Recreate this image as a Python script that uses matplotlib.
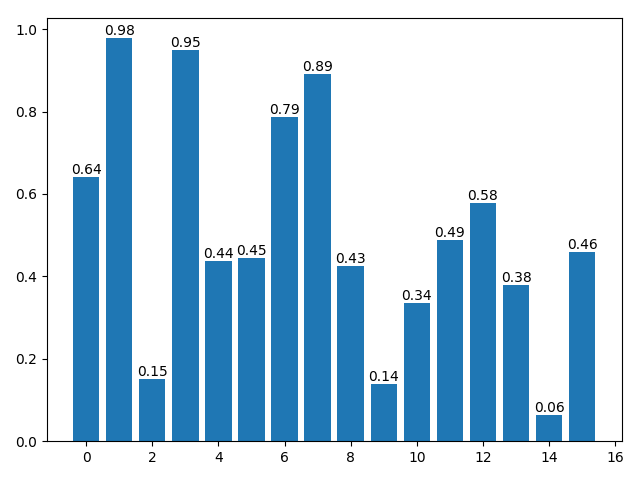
import numpy as np
import matplotlib.pyplot as plt

positions = np.arange(16)
values = [0.640, 0.978, 0.151, 0.949, 0.438, 0.445, 0.786, 0.891,
          0.426, 0.139, 0.336, 0.489, 0.577, 0.380, 0.063, 0.460]


def main():
    fig, ax = plt.subplots(figsize=(6.4, 4.8), dpi=100)
    bars = ax.bar(positions, values)
    ax.bar_label(bars, fmt='%.2f')
    fig.tight_layout()
    # axes top sits a bit lower in the reference
    fig.subplots_adjust(top=0.9625)
    fig.savefig('out.png')


if __name__ == '__main__':
    main()
